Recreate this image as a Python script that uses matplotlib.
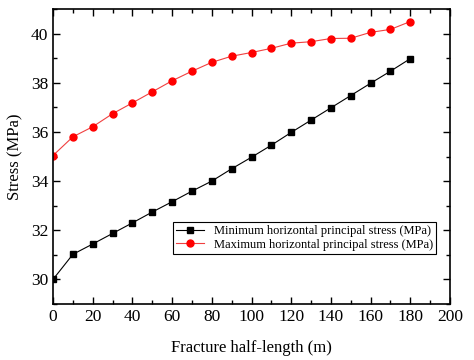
import matplotlib
matplotlib.use('Agg')
from matplotlib import pyplot as plt
from matplotlib.ticker import MultipleLocator

plt.rcParams['font.family'] = ['Liberation Serif', 'DejaVu Serif']
plt.rcParams['mathtext.fontset'] = 'stix'

half_length = [0, 10, 20, 30, 40, 50, 60, 70, 80, 90,
               100, 110, 120, 130, 140, 150, 160, 170, 180]
min_stress = [30.0, 31.02, 31.44, 31.87, 32.30, 32.74, 33.16, 33.59, 34.0, 34.5,
              34.97, 35.46, 35.98, 36.48, 36.98, 37.48, 37.98, 38.47, 38.98]
max_stress = [35.04, 35.80, 36.21, 36.74, 37.18, 37.63, 38.08, 38.47, 38.83, 39.08,
              39.23, 39.40, 39.61, 39.67, 39.80, 39.81, 40.05, 40.17, 40.49]


def main():
    fig = plt.figure(figsize=(4.74, 3.6), dpi=100)
    ax = fig.add_axes([53 / 474, 1 - 304 / 360, 397 / 474, 295 / 360])

    ax.plot(half_length, min_stress, color='black', lw=0.8, marker='s',
            ms=4.5, label='Minimum horizontal principal stress (MPa)')
    ax.plot(half_length, max_stress, color='#f04040', lw=0.8, marker='o',
            ms=5, mfc='red', mec='red',
            label='Maximum horizontal principal stress (MPa)')

    ax.set_xlim(0, 200)
    ax.set_ylim(29, 41)
    ax.xaxis.set_major_locator(MultipleLocator(20))
    ax.xaxis.set_minor_locator(MultipleLocator(10))
    ax.yaxis.set_major_locator(MultipleLocator(2))
    ax.yaxis.set_minor_locator(MultipleLocator(1))
    ax.tick_params(which='both', direction='in', top=True, right=True,
                   labelsize=12.5, width=1)
    ax.tick_params(which='major', length=5)
    ax.tick_params(which='minor', length=3)
    for s in ax.spines.values():
        s.set_linewidth(1.2)

    ax.set_xlabel('Fracture half-length (m)', fontsize=12, labelpad=11)
    ax.set_ylabel('Stress (MPa)', fontsize=12, labelpad=5)

    leg = ax.legend(loc='upper right', bbox_to_anchor=(0.98, 0.3),
                    fontsize=9, fancybox=False, edgecolor='black',
                    borderpad=0.25, handlelength=2.2, labelspacing=0.15,
                    framealpha=1)
    leg.get_frame().set_linewidth(0.8)

    fig.savefig('out.png', dpi=100)


if __name__ == '__main__':
    main()
